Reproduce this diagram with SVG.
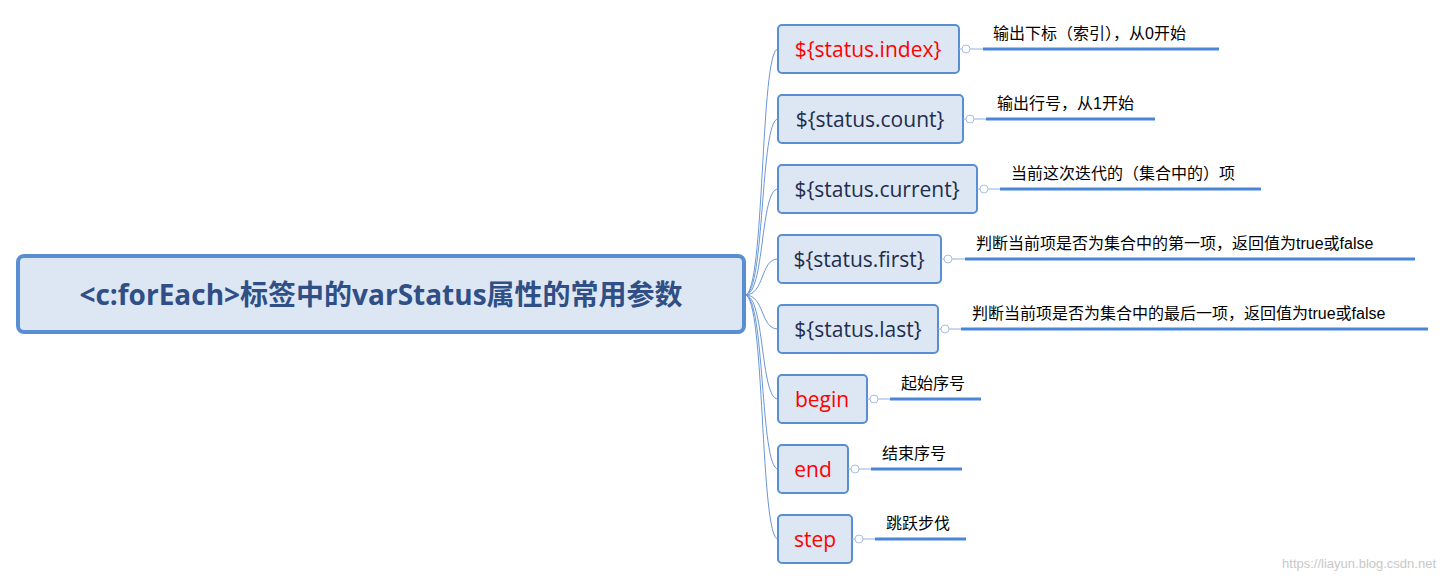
<svg xmlns="http://www.w3.org/2000/svg" width="1446" height="580" viewBox="0 0 1446 580">
<style>
.n{fill:#dde7f3;stroke:#5a8ed3;stroke-width:2}
.nt{font-family:"Open Sans","Noto Sans",sans-serif;font-size:21px;fill:#1f2d4d;text-anchor:middle}
.red{fill:#ff0000}
.c{fill:#fff;stroke:#a9c0e4;stroke-width:1}
.thin{stroke:#8fb0de;stroke-width:1;fill:none}
.ul{stroke:#4a86d6;stroke-width:3}
.lt{font-family:"Liberation Sans","Noto Sans CJK SC",sans-serif;font-size:16px;fill:#000}
.cur{fill:none;stroke:#6a97d6;stroke-width:1}
</style>
<rect width="1446" height="580" fill="#fff"/>
<g id="connectors">
<path class="cur" d="M745 295 C765 295,760 49,778 49"/>
<path class="cur" d="M745 295 C765 295,760 119,778 119"/>
<path class="cur" d="M745 295 C765 295,760 189,778 189"/>
<path class="cur" d="M745 295 C765 295,760 259,778 259"/>
<path class="cur" d="M745 295 C765 295,760 329,778 329"/>
<path class="cur" d="M745 295 C765 295,760 399,778 399"/>
<path class="cur" d="M745 295 C765 295,760 469,778 469"/>
<path class="cur" d="M745 295 C765 295,760 539,778 539"/>
</g>
<g id="root">
<rect x="18" y="256" width="726" height="76" rx="6" fill="#dde7f3" stroke="#5a8ed3" stroke-width="4"/>
<text x="381" y="305" font-family="'Open Sans','Noto Sans CJK SC',sans-serif" font-size="28" font-weight="bold" fill="#2f4f86" text-anchor="middle">&lt;c:forEach&gt;标签中的varStatus属性的常用参数</text>
</g>
<g id="index">
<rect class="n" x="778" y="25" width="181" height="48" rx="4"/>
<text class="nt red" x="868" y="57">${status.index}</text>
<line class="thin" x1="959" y1="49" x2="983" y2="49"/><circle class="c" cx="966" cy="49" r="4"/>
<line class="ul" x1="983" y1="49" x2="1219" y2="49"/>
<text class="lt red" x="993" y="39">输出下标（索引），从0开始</text>
</g>
<g id="count">
<rect class="n" x="778" y="95" width="185" height="48" rx="4"/>
<text class="nt" x="870" y="127">${status.count}</text>
<line class="thin" x1="963" y1="119" x2="986" y2="119"/><circle class="c" cx="970" cy="119" r="4"/>
<line class="ul" x1="986" y1="119" x2="1155" y2="119"/>
<text class="lt" x="997" y="109">输出行号，从1开始</text>
</g>
<g id="current">
<rect class="n" x="778" y="165" width="199" height="48" rx="4"/>
<text class="nt" x="877" y="197">${status.current}</text>
<line class="thin" x1="977" y1="189" x2="1000" y2="189"/><circle class="c" cx="984" cy="189" r="4"/>
<line class="ul" x1="1000" y1="189" x2="1261" y2="189"/>
<text class="lt" x="1011" y="179">当前这次迭代的（集合中的）项</text>
</g>
<g id="first">
<rect class="n" x="778" y="235" width="163" height="48" rx="4"/>
<text class="nt" x="859" y="267">${status.first}</text>
<line class="thin" x1="941" y1="259" x2="965" y2="259"/><circle class="c" cx="948" cy="259" r="4"/>
<line class="ul" x1="965" y1="259" x2="1415" y2="259"/>
<text class="lt" x="976" y="249">判断当前项是否为集合中的第一项，返回值为true或false</text>
</g>
<g id="last">
<rect class="n" x="778" y="305" width="160" height="48" rx="4"/>
<text class="nt" x="858" y="337">${status.last}</text>
<line class="thin" x1="938" y1="329" x2="961" y2="329"/><circle class="c" cx="945" cy="329" r="4"/>
<line class="ul" x1="961" y1="329" x2="1428" y2="329"/>
<text class="lt" x="972" y="319">判断当前项是否为集合中的最后一项，返回值为true或false</text>
</g>
<g id="begin">
<rect class="n" x="778" y="375" width="89" height="48" rx="4"/>
<text class="nt red" x="822" y="407">begin</text>
<line class="thin" x1="867" y1="399" x2="890" y2="399"/><circle class="c" cx="874" cy="399" r="4"/>
<line class="ul" x1="890" y1="399" x2="981" y2="399"/>
<text class="lt red" x="901" y="389">起始序号</text>
</g>
<g id="end">
<rect class="n" x="778" y="445" width="70" height="48" rx="4"/>
<text class="nt red" x="813" y="477">end</text>
<line class="thin" x1="848" y1="469" x2="871" y2="469"/><circle class="c" cx="855" cy="469" r="4"/>
<line class="ul" x1="871" y1="469" x2="962" y2="469"/>
<text class="lt red" x="882" y="459">结束序号</text>
</g>
<g id="step">
<rect class="n" x="778" y="515" width="74" height="48" rx="4"/>
<text class="nt red" x="815" y="547">step</text>
<line class="thin" x1="852" y1="539" x2="875" y2="539"/><circle class="c" cx="859" cy="539" r="4"/>
<line class="ul" x1="875" y1="539" x2="966" y2="539"/>
<text class="lt red" x="886" y="529">跳跃步伐</text>
</g>
<text x="1436" y="568" font-family="'Liberation Sans',sans-serif" font-size="13" fill="#c8c8c8" text-anchor="end">https://liayun.blog.csdn.net</text>
</svg>
